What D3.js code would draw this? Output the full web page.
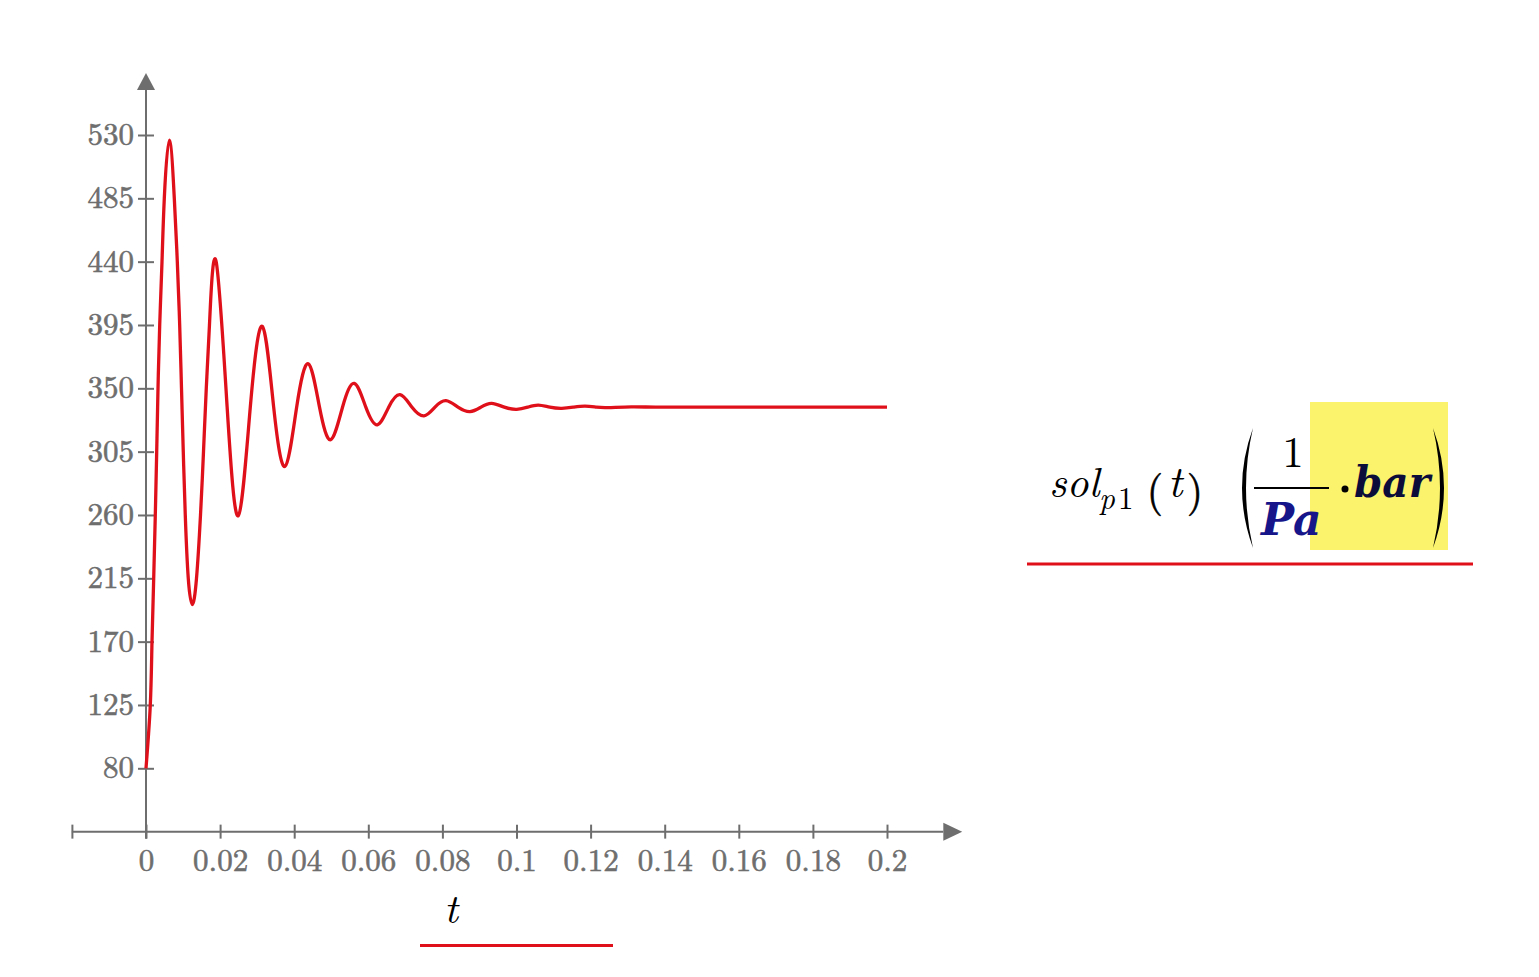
<!DOCTYPE html>
<html>
<head>
<meta charset="utf-8">
<script src="https://cdn.jsdelivr.net/npm/d3@7"></script>
<style>
  body { margin: 0; background: #fff; }
  svg { display: block; }
</style>
</head>
<body>
<div id="chart"></div>
<script>
// values (t in s, pressure in bar)
const timeValues = [
  0, 0.00116, 0.00162, 0.00208, 0.00251, 0.00289, 0.00324, 0.0037, 0.00432, 0.00494,
  0.00629, 0.00764, 0.00845, 0.00909, 0.00958, 0.01006, 0.0106, 0.01141, 0.01249,
  0.01363, 0.01471, 0.01552, 0.01627, 0.01713, 0.01889,
  0.0219, 0.02491, 0.02815, 0.03139, 0.03446, 0.03752, 0.04066, 0.0438, 0.04683,
  0.04985, 0.05304, 0.05622, 0.05933, 0.06243, 0.0655, 0.06856, 0.0718, 0.07504,
  0.078, 0.08097, 0.0842, 0.08745, 0.0904, 0.09331, 0.0967, 0.10005, 0.103, 0.10588,
  0.109, 0.1122, 0.1153, 0.11849, 0.1216, 0.1247, 0.131, 0.14, 0.16, 0.18, 0.2
];
const pressureValues = [
  80, 125, 170, 215, 260, 305, 350, 395, 440, 485,
  526.4, 485, 440, 395, 350, 305, 260, 215, 196.4,
  215, 260, 305, 350, 395, 440.6,
  336.6, 259.5, 336.6, 394, 336.6, 294.5, 336.6, 367.5, 336.6,
  313.5, 336.6, 353.5, 336.6, 324.1, 336.6, 345.5, 336.6, 330.4,
  336.6, 341.2, 336.6, 333.4, 336.6, 339.3, 336.6, 335.1, 336.6, 338.1,
  336.6, 335.8, 336.6, 337.4, 336.6, 336.3, 336.8, 336.6, 336.6, 336.6, 336.6
];

const xTickValues = [-0.02, 0, 0.02, 0.04, 0.06, 0.08, 0.1, 0.12, 0.14, 0.16, 0.18, 0.2];
const xTickLabels = ["", "0", "0.02", "0.04", "0.06", "0.08", "0.1", "0.12", "0.14", "0.16", "0.18", "0.2"];
const yTickValues = [80, 125, 170, 215, 260, 305, 350, 395, 440, 485, 530];
const yTickLabels = ["80", "125", "170", "215", "260", "305", "350", "395", "440", "485", "530"];

const axisColor = "#6e6e6e";
const curveColor = "#e0101b";
const mathFont = "Latin Modern Roman";
const unitFont = "DejaVu Serif";

function drawPlot() {
    const svg = d3.select("#chart")
        .append("svg")
        .attr("width", 1539)
        .attr("height", 977);

    const x = d3.scaleLinear().domain([0, 0.2]).range([146, 887]);
    const y = d3.scaleLinear().domain([80, 530]).range([768.3, 135]);

    const xAxisAt = 35;     // value on the y scale where the t axis sits

    // --- t axis ---
    const gx = svg.append("g")
        .attr("transform", `translate(0,${y(xAxisAt)})`)
        .call(d3.axisBottom(x).tickValues(xTickValues).tickFormat((d, i) => xTickLabels[i]));
    gx.attr("font-family", mathFont).attr("font-size", 31);
    gx.select(".domain").remove();
    gx.selectAll(".tick line")
        .attr("y1", -7).attr("y2", 7)
        .attr("stroke", axisColor).attr("stroke-width", 2);
    gx.selectAll(".tick text")
        .attr("y", 39).attr("dy", 0)
        .attr("fill", axisColor)
        .attr("stroke", axisColor).attr("stroke-width", 0.6);
    gx.append("line")
        .attr("x1", x(-0.02)).attr("x2", x(0.2152))
        .attr("stroke", axisColor).attr("stroke-width", 2);
    gx.append("path")
        .attr("d", `M${x(0.2203)},0 L${x(0.2152)},-9 L${x(0.2152)},9 Z`)
        .attr("fill", axisColor);

    // --- pressure axis ---
    const gy = svg.append("g")
        .attr("transform", `translate(${x(0)},0)`)
        .call(d3.axisLeft(y).tickValues(yTickValues).tickFormat((d, i) => yTickLabels[i]));
    gy.attr("font-family", mathFont).attr("font-size", 31);
    gy.select(".domain").remove();
    gy.selectAll(".tick line")
        .attr("x1", -8).attr("x2", 8)
        .attr("stroke", axisColor).attr("stroke-width", 2);
    gy.selectAll(".tick text")
        .attr("x", -12).attr("dy", "0.31em")
        .attr("fill", axisColor)
        .attr("stroke", axisColor).attr("stroke-width", 0.6);
    gy.append("line")
        .attr("y1", y(xAxisAt) + 7).attr("y2", y(562))
        .attr("stroke", axisColor).attr("stroke-width", 2);
    gy.append("path")
        .attr("d", `M0,${y(574)} L-9,${y(562)} L9,${y(562)} Z`)
        .attr("fill", axisColor);

    // --- curve ---
    const points = timeValues.map((t, i) => ({t: t, p: pressureValues[i]}));
    svg.append("path")
        .datum(points)
        .attr("fill", "none")
        .attr("stroke", curveColor)
        .attr("stroke-width", 3.3)
        .attr("stroke-linejoin", "round")
        .attr("d", d3.line()
            .x(d => x(d.t))
            .y(d => y(d.p))
            .curve(d3.curveNatural)
        );

    // --- axis variable t ---
    svg.append("text")
        .attr("x", 451).attr("y", 923)
        .attr("text-anchor", "middle")
        .attr("font-family", mathFont).attr("font-style", "italic").attr("font-size", 42)
        .text("t");
    svg.append("line")
        .attr("x1", 420).attr("x2", 613).attr("y1", 945.5).attr("y2", 945.5)
        .attr("stroke", curveColor).attr("stroke-width", 3);

    // --- trace legend: sol_p1(t)  (1/Pa · bar) ---
    const leg = svg.append("g").attr("font-family", mathFont);
    leg.append("rect")
        .attr("x", 1310).attr("y", 402).attr("width", 138).attr("height", 148)
        .attr("fill", "#faf36b");

    leg.append("text").attr("x", 1049).attr("y", 497)
        .attr("font-style", "italic").attr("font-size", 43).text("sol");
    leg.append("text").attr("x", 1099).attr("y", 509)
        .attr("font-style", "italic").attr("font-size", 31).text("p");
    leg.append("text").attr("x", 1118).attr("y", 509)
        .attr("font-size", 31).text("1");
    leg.append("text").attr("x", 1155).attr("y", 505).attr("text-anchor", "middle")
        .attr("font-size", 42).attr("stroke", "#000").attr("stroke-width", 0.6).text("(");
    leg.append("text").attr("x", 1175).attr("y", 497).attr("text-anchor", "middle")
        .attr("font-style", "italic").attr("font-size", 44).text("t");
    leg.append("text").attr("x", 1195).attr("y", 505).attr("text-anchor", "middle")
        .attr("font-size", 42).attr("stroke", "#000").attr("stroke-width", 0.6).text(")");

    leg.append("path")
        .attr("d", "M1253,428 Q1231,488 1253,548 Q1239,488 1253,428 Z")
        .attr("fill", "#000");
    leg.append("path")
        .attr("d", "M1433,428 Q1455,488 1433,548 Q1447,488 1433,428 Z")
        .attr("fill", "#000");

    leg.append("text").attr("x", 1293).attr("y", 467).attr("text-anchor", "middle")
        .attr("font-size", 43).text("1");
    leg.append("line")
        .attr("x1", 1254).attr("x2", 1329).attr("y1", 488).attr("y2", 488)
        .attr("stroke", "#000").attr("stroke-width", 2);
    leg.append("text").attr("x", 1261).attr("y", 535)
        .attr("fill", "#16168a")
        .attr("font-family", unitFont)
        .attr("font-style", "italic").attr("font-weight", "bold").attr("font-size", 44)
        .text("Pa");
    leg.append("circle").attr("cx", 1345).attr("cy", 489).attr("r", 3.5).attr("fill", "#000");
    leg.append("text").attr("x", 1354).attr("y", 497)
        .attr("fill", "#0c0c3a")
        .attr("font-family", unitFont)
        .attr("font-style", "italic").attr("font-weight", "bold").attr("font-size", 43)
        .attr("textLength", 76).attr("lengthAdjust", "spacingAndGlyphs")
        .text("bar");

    leg.append("line")
        .attr("x1", 1027).attr("x2", 1473).attr("y1", 564).attr("y2", 564)
        .attr("stroke", curveColor).attr("stroke-width", 3);
}

window.addEventListener("load", drawPlot);
</script>
</body>
</html>
